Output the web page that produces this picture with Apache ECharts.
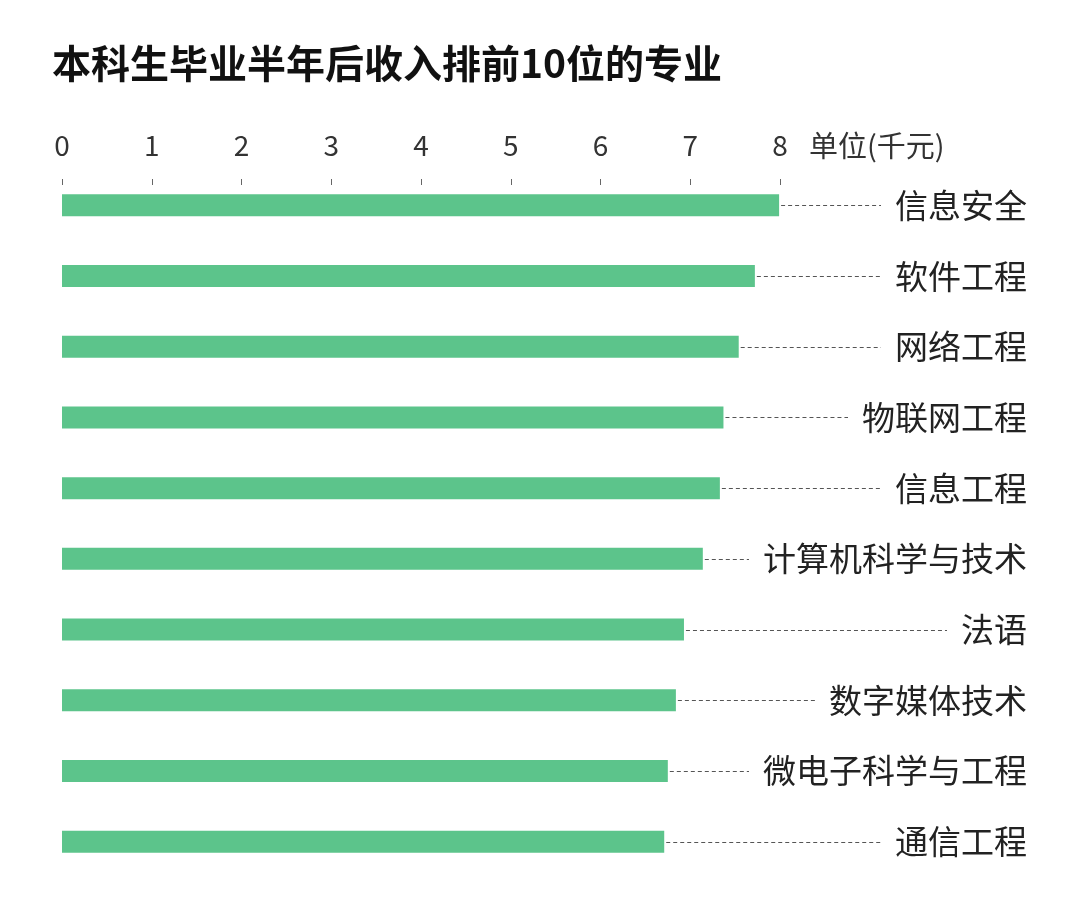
<!DOCTYPE html>
<html>
<head>
<meta charset="utf-8">
<script src="https://cdn.jsdelivr.net/npm/echarts@6/dist/echarts.min.js"></script>
<style>
  html, body { margin: 0; padding: 0; background: #fff; }
  #chart { width: 1080px; height: 905px; }
</style>
</head>
<body>
<div id="chart"></div>
<script>
var majors = ['信息安全', '软件工程', '网络工程', '物联网工程', '信息工程',
  '计算机科学与技术', '法语', '数字媒体技术', '微电子科学与工程', '通信工程'];
var salaries = [7.99, 7.72, 7.54, 7.37, 7.33, 7.14, 6.93, 6.84, 6.75, 6.71];

var FONT = '"Noto Sans CJK SC", "Noto Sans", sans-serif';
var LABEL_SIZE = 33;
var LABEL_RIGHT = 1027;

// measure label widths so the dashed leader stops just before the text
var measureCtx = document.createElement('canvas').getContext('2d');
measureCtx.font = LABEL_SIZE + 'px ' + FONT;
function textWidth(s) { return measureCtx.measureText(s).width; }

var chart = echarts.init(document.getElementById('chart'));

function renderRow(params, api) {
  var idx = api.value(0);
  var val = api.value(1);
  var start = api.coord([0, idx]);
  var end = api.coord([val, idx]);
  var barH = 22;
  var labelLeft = LABEL_RIGHT - textWidth(majors[idx]);
  var ly = Math.round(end[1]) + 0.5;
  return {
    type: 'group',
    children: [
      {
        type: 'rect',
        shape: { x: start[0], y: start[1] - barH / 2, width: end[0] - start[0], height: barH },
        style: { fill: '#5cc48b' }
      },
      {
        type: 'line',
        shape: { x1: end[0] + 2, y1: ly, x2: labelLeft - 14, y2: ly },
        style: { stroke: '#555', lineWidth: 1, lineDash: [4, 3] }
      },
      {
        type: 'text',
        x: LABEL_RIGHT,
        y: end[1],
        style: {
          text: majors[idx],
          fill: '#222',
          font: LABEL_SIZE + 'px ' + FONT,
          align: 'right',
          verticalAlign: 'middle'
        }
      }
    ]
  };
}

var option = {
  backgroundColor: '#fff',
  textStyle: { fontFamily: FONT },
  title: [
    {
      text: '本科生毕业半年后收入排前10位的专业',
      left: 52,
      top: 44,
      padding: 0,
      textStyle: { fontSize: 39, fontWeight: 'bold', color: '#111', fontFamily: FONT }
    },
    {
      text: '单位(千元)',
      left: 809,
      top: 131,
      padding: 0,
      textStyle: { fontSize: 29, fontWeight: 'normal', color: '#333', fontFamily: FONT }
    }
  ],
  grid: { left: 62, right: 300, top: 170, bottom: 28 },
  xAxis: {
    type: 'value',
    position: 'top',
    min: 0,
    max: 8,
    interval: 1,
    offset: -9,
    splitLine: { show: false },
    axisLine: { show: false },
    axisTick: { show: true, inside: true, length: 6, lineStyle: { color: '#666', width: 1 } },
    axisLabel: { fontSize: 28, color: '#333', margin: 20, fontFamily: FONT }
  },
  yAxis: {
    type: 'category',
    inverse: true,
    data: majors,
    show: false
  },
  series: [
    {
      type: 'custom',
      renderItem: renderRow,
      encode: { x: 1, y: 0 },
      data: salaries.map(function (v, i) { return [i, v]; })
    }
  ]
};

chart.setOption(option);
</script>
</body>
</html>
